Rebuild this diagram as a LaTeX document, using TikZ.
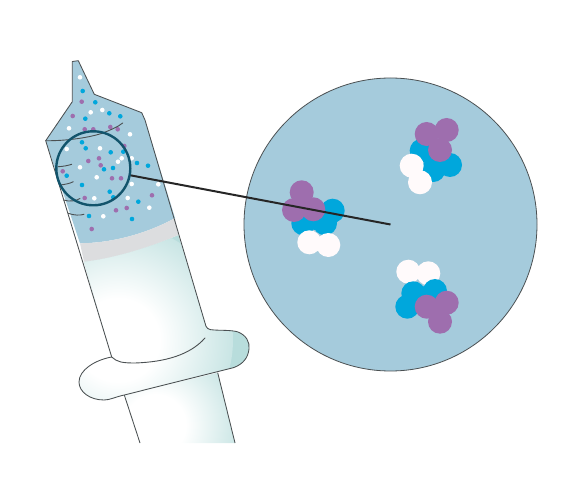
\documentclass[tikz,border=0pt]{standalone}
\definecolor{SerumClr}{RGB}{165,203,220}
\definecolor{BandClr}{RGB}{220,221,223}
\definecolor{GlassClr}{RGB}{184,221,220}
\definecolor{WallClr}{RGB}{75,80,82}
\definecolor{LensClr}{RGB}{18,84,108}
\definecolor{AntibodyClr}{RGB}{158,110,174}
\definecolor{ParticleClr}{RGB}{0,167,220}
\definecolor{ChainClr}{RGB}{255,250,251}
\pgfdeclareradialshading{tubeglow}{\pgfpointorigin}{color(0bp)=(white); color(9bp)=(white); color(30bp)=(GlassClr); color(50bp)=(GlassClr)}
\tikzset{
  wall/.style={draw=WallClr,line width=0.85pt,line join=round},
  crease/.style={draw=WallClr,line width=0.9pt,line cap=round},
  lensring/.style={circle,draw=LensClr,line width=2.4pt,minimum size=74pt,inner sep=0pt},
  bigdisc/.style={circle,draw=WallClr,line width=0.8pt,fill=SerumClr,minimum size=293pt,inner sep=0pt},
  pointer/.style={draw=black!85,line width=2pt}
}
\newcommand{\Blobs}[2]{\foreach \p in {#2} \fill[#1] \p circle (12);}
\newcommand{\Specks}[2]{\foreach \p in {#2} \fill[#1] \p circle (2.3);}
\begin{document}
\begin{tikzpicture}[x=1pt,y=-1pt]
\useasboundingbox (0,0) rectangle (576,478);

\coordinate (T1) at (72.3,61.5);
\coordinate (T2) at (78.3,60.7);
\coordinate (S1) at (94.3,94.3);
\coordinate (S2) at (141.7,112.7);
\coordinate (S3) at (145,120);
\coordinate (N1) at (72.3,101.7);
\coordinate (N2) at (45.7,140.7);
\coordinate (L1) at (80,243.3);
\coordinate (R1) at (175,218);
\coordinate (L2) at (84,261.7);
\coordinate (R2) at (178.3,235);
\coordinate (F1) at (111.7,357);
\coordinate (F2) at (205,323);
\coordinate (G1) at (124.3,395);
\coordinate (G2) at (217.7,372.7);
\coordinate (E1) at (140,443);
\coordinate (E2) at (235,443);

% lower barrel
\begin{scope}
\clip (G1) -- (G2) -- (E2) -- (E1) -- cycle;
\fill[GlassClr] (G1) rectangle (E2);
\shade[shading=tubeglow] (155,425) circle (85);
\end{scope}
\draw[wall] (G1) -- (E1) (G2) -- (E2);

% barrel and flange
\begin{scope}
\clip (L2) .. controls (115,258) and (150,247) .. (R2) -- (F2)
  .. controls (206,328) and (208,330) .. (214,330)
  .. controls (222,330.5) and (232,330) .. (238,332)
  .. controls (246,335) and (250,342) .. (249,349)
  .. controls (248,358) and (243,364) .. (234,367.5)
  -- (G1) .. controls (115,397) and (110,400) .. (104,400)
  .. controls (90,400) and (79,392) .. (79,382)
  .. controls (79,370) and (95,360) .. (F1) -- cycle;
\fill[GlassClr] (60,230) rectangle (260,410);
\shade[shading=tubeglow] (118,340) circle (115);
\end{scope}

% serum and meniscus band
\fill[SerumClr] (N2) -- (N1) -- (T1) -- (T2) -- (S1) -- (S2) -- (S3) -- (R1)
  .. controls (150,232) and (115,243) .. (L1) -- cycle;
\fill[BandClr] (L1) .. controls (115,243) and (150,232) .. (R1) -- (R2)
  .. controls (150,247) and (115,258) .. (L2) -- cycle;

\Specks{white}{(80,77.3),(90.7,112.3),(102.3,110),(69,128.3),(130,134.3),(66.7,149),(100,148.3),(121.7,158.3),(118,161.7),(131.7,158.3),(80,167.3),(96.7,177.3),(131.7,184),(158.3,184.3),(94.3,198.3),(127.7,198),(149.3,207.7),(103.3,216.3)}
\Specks{ParticleClr}{(82.7,91),(95.3,102.3),(109.3,113.3),(120.3,116.3),(85.3,118.7),(82,142.3),(85.7,148.3),(110.7,152.3),(123.3,151.7),(104,169.3),(113,168),(137,163),(148,165.7),(66.7,175.7),(82,185),(109.7,191.7),(113.3,197.3),(138.3,201.7),(89,216),(132,219)}
\Specks{AntibodyClr}{(81.7,101.7),(72.7,116),(84.7,129.3),(93.3,129.3),(110.3,127),(117.7,129.3),(124.3,146),(88.3,161),(99,158.3),(100.7,165.3),(62.7,171.3),(112,178.3),(121,178.3),(84.7,198),(152,195.3),(126.7,208),(116,210.3),(91.7,229)}

% syringe outline
\draw[wall] (N2) -- (N1) -- (T1) -- (T2) -- (S1) -- (S2) -- (S3) -- (F2)
  .. controls (206,328) and (208,330) .. (214,330)
  .. controls (222,330.5) and (232,330) .. (238,332)
  .. controls (246,335) and (250,342) .. (249,349)
  .. controls (248,358) and (243,364) .. (234,367.5)
  -- (G1) .. controls (115,397) and (110,400) .. (104,400)
  .. controls (90,400) and (79,392) .. (79,382)
  .. controls (79,370) and (95,360) .. (F1) -- cycle;

% creases
\draw[crease] (F1) .. controls (117,362) and (122,363) .. (135,363)
  .. controls (165,362) and (190,355) .. (205,338);
\draw[crease] (N2) .. controls (60,141) and (85,139) .. (103,133)
  .. controls (110,130) and (118,127) .. (122.7,123);
\draw[crease] (58.3,166.7) .. controls (63,166.5) and (68,165.5) .. (71.7,164.3);
\draw[crease] (60,185) .. controls (65,184.5) and (70,183.5) .. (73.3,181.7);
\draw[crease] (63.3,200) .. controls (70,202) and (76,201) .. (80,198.5);
\draw[crease] (68.3,213.3) .. controls (74,215.5) and (80,215.5) .. (84,214.3);

% magnified view
\node[bigdisc] (disc) at (390.5,224.5) {};

\Blobs{ParticleClr}{(421.7,150.7),(433.3,170),(450,165),(438,160)}
\Blobs{ChainClr}{(411.7,165.7),(420,182.3)}
\Blobs{AntibodyClr}{(426.7,134),(446.7,130),(440,150)}

\Blobs{ParticleClr}{(332.7,210.7),(303.3,223.3),(325,223.3),(315,218)}
\Blobs{ChainClr}{(309.3,242.3),(328.3,245)}
\Blobs{AntibodyClr}{(301.7,192.3),(294,210),(313.3,209.3)}

\Blobs{ChainClr}{(408.3,271.7),(428.3,273.3)}
\Blobs{ParticleClr}{(413.3,293.3),(435,291),(407.3,306.7),(422,298)}
\Blobs{AntibodyClr}{(426.7,306.7),(446.7,302.7),(440,321.7)}

% lens and its pointer
\node[lensring] (lens) at (93.3,168.3) {};
\draw[pointer] (lens) -- (disc.center);

\end{tikzpicture}
\end{document}
